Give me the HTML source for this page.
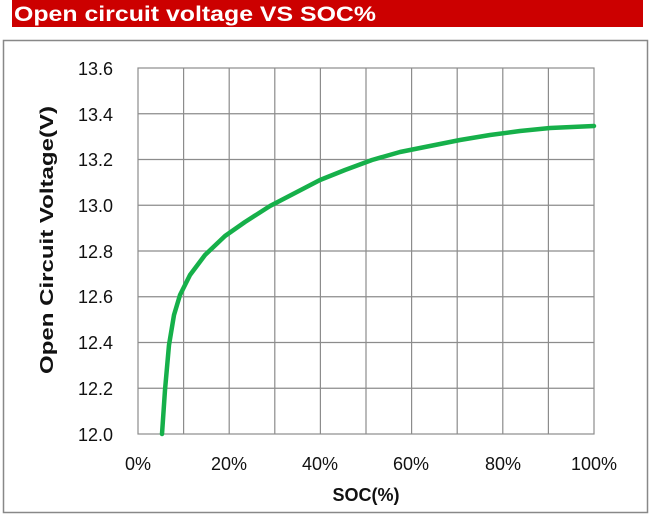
<!DOCTYPE html>
<html><head><style>
body{margin:0;background:#fff;width:650px;height:517px;overflow:hidden;font-family:"Liberation Sans",Arial,sans-serif}
</style></head><body>
<svg width="650" height="517" xmlns="http://www.w3.org/2000/svg">
<rect x="12" y="0" width="631" height="27" fill="#cc0000"/>
<text x="14" y="21" font-size="21" font-weight="bold" fill="#fff" font-family="Liberation Sans, Arial, sans-serif" textLength="362" lengthAdjust="spacingAndGlyphs">Open circuit voltage VS SOC%</text>
<rect x="3.5" y="40.5" width="644" height="472" fill="#fff" stroke="#888" stroke-width="1.5"/>
<g stroke="#8c8c8c" stroke-width="1.2" fill="none">
<rect x="138" y="68" width="456" height="366"/>
<path d="M183.6 68V434M229.2 68V434M274.8 68V434M320.4 68V434M366 68V434M411.6 68V434M457.2 68V434M502.8 68V434M548.4 68V434"/>
<path d="M138 113.75H594M138 159.5H594M138 205.25H594M138 251H594M138 296.75H594M138 342.5H594M138 388.25H594"/>
</g>
<g font-size="18" fill="#111" text-anchor="end">
<text x="113" y="75">13.6</text><text x="113" y="121">13.4</text><text x="113" y="166">13.2</text><text x="113" y="212">13.0</text><text x="113" y="258">12.8</text><text x="113" y="303">12.6</text><text x="113" y="349">12.4</text><text x="113" y="395">12.2</text><text x="113" y="441">12.0</text>
</g>
<g font-size="18" fill="#111" text-anchor="middle">
<text x="138" y="470">0%</text><text x="229" y="470">20%</text><text x="320" y="470">40%</text><text x="411" y="470">60%</text><text x="503" y="470">80%</text><text x="594" y="470">100%</text>
<text x="366" y="501" font-weight="bold">SOC(%)</text>
</g>
<text transform="translate(53 240) rotate(-90)" font-size="18" font-weight="bold" fill="#111" text-anchor="middle" textLength="268" lengthAdjust="spacingAndGlyphs">Open Circuit Voltage(V)</text>
<path d="M162 434 L165 390 L169 345 L174 315 L180 295 L190 275 L205 255 L225 236 L245 222 L270 206 L295 193 L320 180 L345 170 L372 160 L400 152 L430 146 L460 140 L490 135 L520 131 L550 128 L594 126" fill="none" stroke="#16b04a" stroke-width="4.5" stroke-linejoin="round" stroke-linecap="round"/>
</svg>
</body></html>
